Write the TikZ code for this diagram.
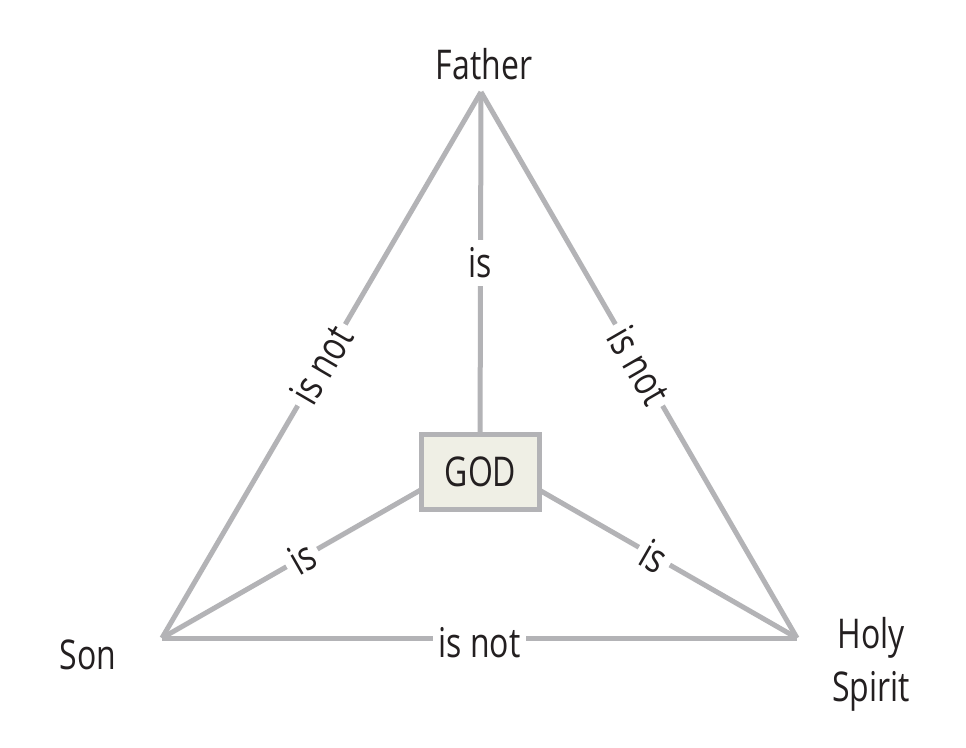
\documentclass[tikz,border=0pt]{standalone}
\usepackage{fontspec}
\setmainfont{Open Sans}[FakeStretch=0.78]
\definecolor{edgegray}{HTML}{B3B3B6}
\definecolor{txt}{HTML}{231F20}
\definecolor{boxfill}{HTML}{EFEFE5}
\begin{document}
\begin{tikzpicture}[x=1pt,y=-1pt,
  edge/.style={draw=edgegray,line width=5pt},
  lbl/.style={fill=white,text=txt,inner sep=6pt,font=\fontsize{41}{46}\selectfont},
  person/.style={text=txt,font=\fontsize{41}{53}\selectfont,align=center,inner sep=0pt},
  godbox/.style={draw=edgegray,fill=boxfill,line width=5pt,minimum width=118pt,minimum height=75pt,text=txt,font=\fontsize{41}{46}\selectfont,inner sep=0pt}]
\useasboundingbox[fill=white] (0,0) rectangle (966,747);
\coordinate (F) at (481,92);
\coordinate (S) at (162,638);
\coordinate (H) at (797,638);
\coordinate (C) at (480,456);
\draw[edge] (S) -- node[lbl,sloped,pos=0.5]{is not} (F);
\draw[edge] (F) -- node[lbl,sloped,pos=0.5]{is not} (H);
\draw[edge] (S) -- node[lbl,pos=0.5,yshift=-5pt]{is not} (H);
\draw[edge] (F) -- node[lbl,pos=0.47,inner xsep=2pt,inner ysep=8pt]{is} (C);
\draw[edge] (S) -- node[lbl,sloped,pos=0.44]{is} (C);
\draw[edge] (C) -- node[lbl,sloped,pos=0.55]{is} (H);
\node[godbox] (god) at (480.5,472) {GOD};
\node[person] (father) at (484,64) {Father};
\node[person] (son) at (88,655) {Son};
\node[person] (spirit) at (871,664) {Holy\\Spirit};
\end{tikzpicture}
\end{document}
